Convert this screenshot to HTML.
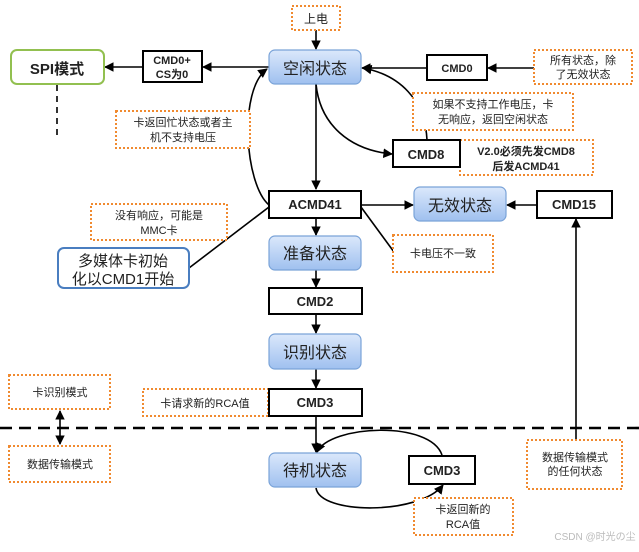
<!DOCTYPE html>
<html><head><meta charset="utf-8"><style>
body{margin:0;background:#fff;}
svg text{font-family:"Liberation Sans","Noto Sans CJK SC",sans-serif;}
</style></head><body>
<svg width="639" height="547" viewBox="0 0 639 547" xmlns="http://www.w3.org/2000/svg">
<defs>
<linearGradient id="g" x1="0" y1="0" x2="0" y2="1"><stop offset="0" stop-color="#dbe8fb"/><stop offset="1" stop-color="#9fc0ef"/></linearGradient>
<marker id="a" viewBox="0 0 10 10" refX="9" refY="5" markerWidth="6" markerHeight="6" orient="auto-start-reverse"><path d="M0,0L10,5L0,10z" fill="#000"/></marker>
</defs>
<g fill="none" stroke="#000" stroke-width="1.6">
<line x1="316" y1="30" x2="316" y2="49" marker-end="url(#a)"/>
<line x1="269" y1="67" x2="203" y2="67" marker-end="url(#a)"/>
<line x1="143" y1="67" x2="105" y2="67" marker-end="url(#a)"/>
<line x1="534" y1="68" x2="488" y2="68" marker-end="url(#a)"/>
<line x1="427" y1="68" x2="362" y2="68" marker-end="url(#a)"/>
<line x1="316" y1="84" x2="316" y2="189" marker-end="url(#a)"/>
<path d="M316,84 C320,125 350,150 392,154" marker-end="url(#a)"/>
<path d="M427,140 C425,100 400,75 363,68" marker-end="url(#a)"/>
<path d="M269,205 C245,185 238,90 267,69" marker-end="url(#a)"/>
<line x1="361" y1="205" x2="413" y2="205" marker-end="url(#a)"/>
<line x1="537" y1="205" x2="507" y2="205" marker-end="url(#a)"/>
<line x1="576" y1="440" x2="576" y2="219" marker-end="url(#a)"/>
<line x1="361" y1="207" x2="394" y2="252"/>
<line x1="189" y1="268" x2="269" y2="207"/>
<line x1="316" y1="218" x2="316" y2="235" marker-end="url(#a)"/>
<line x1="316" y1="270" x2="316" y2="287" marker-end="url(#a)"/>
<line x1="316" y1="314" x2="316" y2="333" marker-end="url(#a)"/>
<line x1="316" y1="369" x2="316" y2="388" marker-end="url(#a)"/>
<line x1="316" y1="416" x2="316" y2="452" marker-end="url(#a)"/>
<path d="M316,488 C320,515 420,515 443,485" marker-end="url(#a)"/>
<path d="M442,455 C430,420 330,425 317,452" marker-end="url(#a)"/>
<line x1="60" y1="411" x2="60" y2="444" marker-start="url(#a)" marker-end="url(#a)"/>
<line x1="57" y1="85" x2="57" y2="136" stroke-dasharray="6,5"/>
<line x1="0" y1="428" x2="639" y2="428" stroke-width="2.6" stroke-dasharray="12,7"/>
</g>
<g fill="#fff" stroke="#f08a30" stroke-width="2" stroke-dasharray="2,2">
<rect x="292" y="6" width="48" height="24"/>
<rect x="534" y="50" width="98" height="34"/>
<rect x="116" y="111" width="134" height="37"/>
<rect x="413" y="93" width="160" height="37"/>
<rect x="460" y="140" width="133" height="35"/>
<rect x="91" y="204" width="136" height="36"/>
<rect x="393" y="235" width="100" height="37"/>
<rect x="143" y="389" width="125" height="27"/>
<rect x="9" y="375" width="101" height="34"/>
<rect x="9" y="446" width="101" height="36"/>
<rect x="414" y="498" width="99" height="37"/>
<rect x="527" y="440" width="95" height="49"/>
</g>
<g fill="url(#g)" stroke="#7aa3d8" stroke-width="1.2">
<rect x="269" y="50" width="92" height="34" rx="6"/>
<rect x="414" y="187" width="92" height="34" rx="6"/>
<rect x="269" y="236" width="92" height="34" rx="6"/>
<rect x="269" y="334" width="92" height="35" rx="6"/>
<rect x="269" y="453" width="92" height="34" rx="6"/>
</g>
<rect x="11" y="50" width="93" height="34" rx="6" fill="#fff" stroke="#92c050" stroke-width="2"/>
<rect x="58" y="248" width="131" height="40" rx="6" fill="#fff" stroke="#4a7ec0" stroke-width="2"/>
<g fill="#fff" stroke="#000" stroke-width="2">
<rect x="143" y="51" width="59" height="31"/>
<rect x="427" y="55" width="60" height="25"/>
<rect x="393" y="140" width="67" height="27"/>
<rect x="269" y="191" width="92" height="27"/>
<rect x="537" y="191" width="75" height="27"/>
<rect x="269" y="288" width="93" height="26"/>
<rect x="269" y="389" width="93" height="27"/>
<rect x="409" y="456" width="66" height="28"/>
</g>
<g text-anchor="middle" fill="#222">
<text x="316" y="23" font-size="12">上电</text>
<text x="315" y="74" font-size="16">空闲状态</text>
<text x="460" y="211" font-size="16">无效状态</text>
<text x="315" y="259" font-size="16">准备状态</text>
<text x="315" y="358" font-size="16">识别状态</text>
<text x="315" y="476" font-size="16">待机状态</text>
<text x="57" y="74" font-size="15" font-weight="bold">SPI模式</text>
<text x="123" y="266" font-size="15">多媒体卡初始</text>
<text x="123" y="284" font-size="15">化以CMD1开始</text>
<g font-weight="bold" font-size="11">
<text x="172" y="64">CMD0+</text><text x="172" y="78">CS为0</text>
<text x="457" y="72">CMD0</text>
<text x="526" y="155">V2.0必须先发CMD8</text><text x="526" y="170">后发ACMD41</text>
</g>
<g font-weight="bold" font-size="13">
<text x="426" y="159">CMD8</text>
<text x="315" y="209">ACMD41</text>
<text x="574" y="209">CMD15</text>
<text x="315" y="306">CMD2</text>
<text x="315" y="407">CMD3</text>
<text x="442" y="475">CMD3</text>
</g>
<g font-size="11">
<text x="583" y="64">所有状态，除</text><text x="583" y="78">了无效状态</text>
<text x="183" y="126">卡返回忙状态或者主</text><text x="183" y="141">机不支持电压</text>
<text x="493" y="108">如果不支持工作电压，卡</text><text x="493" y="123">无响应，返回空闲状态</text>
<text x="159" y="219">没有响应，可能是</text><text x="159" y="234">MMC卡</text>
<text x="443" y="257">卡电压不一致</text>
<text x="205" y="407">卡请求新的RCA值</text>
<text x="60" y="396">卡识别模式</text>
<text x="60" y="468">数据传输模式</text>
<text x="463" y="513">卡返回新的</text><text x="463" y="528">RCA值</text>
<text x="575" y="461">数据传输模式</text><text x="575" y="475">的任何状态</text>
</g>
<text x="595" y="540" font-size="10" fill="#bbb">CSDN @时光の尘</text>
</g>
</svg>
</body></html>
